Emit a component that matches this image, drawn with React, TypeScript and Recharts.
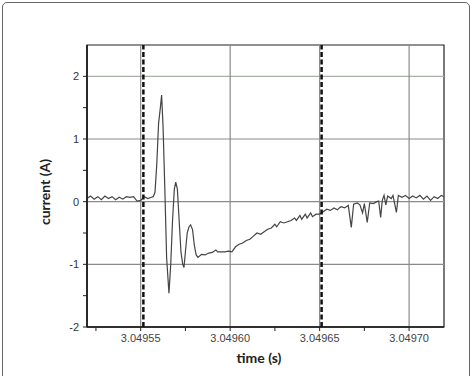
import { LineChart, Line, XAxis, YAxis, ReferenceLine, ReferenceArea, Label } from 'recharts';

// time in microseconds after 3.0495 s, current in A
const timeUs = [
  20, 22, 24, 26, 28, 30, 32, 34, 36, 38, 40, 42, 44, 46, 48, 50, 52, 54, 56, 57,
  58, 59, 60, 61, 61.7, 62.5, 63.5, 64.5, 65.8, 66.8, 67.8, 68.8, 69.6, 70.5, 71.5,
  72.5, 73.5, 74.2, 75, 76, 77, 77.9, 79, 80, 81, 82, 84, 86, 88, 90, 92, 93, 95, 97,
  99, 101, 103, 105, 107, 109, 111, 113, 115, 117, 119, 121, 123, 125, 126, 128, 130,
  132, 134, 136, 137, 139, 140, 142, 143, 145, 146, 148, 150, 152, 154, 156, 158, 160,
  161, 162, 164, 166, 167.7, 169, 171, 172.5, 174, 175, 176.6, 178, 180, 182, 183,
  184.1, 185, 186, 187, 188, 190, 191, 192.9, 194, 196, 198, 200, 202, 204, 206, 208,
  210, 212, 214, 216, 218, 219.5,
];

const currentA = [
  0.05, 0.09, 0.04, 0.08, 0.03, 0.09, 0.05, 0.08, 0.03, 0.07, 0.04, 0.08, 0.07, 0.08, 0.01, 0.02, 0.08, 0.05, 0.07, 0.08,
  0.15, 0.6, 1.25, 1.5, 1.7, 1.2, 0.2, -0.9, -1.46, -1.0, -0.3, 0.2, 0.31, 0.2, -0.3,
  -0.8, -1.0, -1.05, -0.8, -0.5, -0.4, -0.37, -0.45, -0.7, -0.85, -0.89, -0.84, -0.85, -0.82, -0.81, -0.77, -0.8, -0.8, -0.8,
  -0.79, -0.8, -0.72, -0.68, -0.66, -0.62, -0.6, -0.55, -0.5, -0.52, -0.48, -0.44, -0.42, -0.36, -0.4, -0.32, -0.34,
  -0.32, -0.3, -0.26, -0.3, -0.22, -0.28, -0.2, -0.26, -0.18, -0.24, -0.2, -0.2, -0.16, -0.12, -0.14, -0.1, -0.13,
  -0.1, -0.08, -0.1, -0.06, -0.41, -0.04, -0.02, -0.05, -0.18, -0.03, -0.33, -0.02, -0.03, 0.0, 0.01,
  -0.25, 0.02, 0.1, -0.05, 0.09, 0.05, 0.1, -0.17, 0.1, 0.07, 0.1, 0.05, 0.09, 0.06, 0.1, 0.04,
  0.09, 0.02, 0.08, 0.05, 0.1, 0.08,
];

const xTicks = [25, 50, 75, 100, 125, 150, 175, 200];
const xLabelled = [50, 100, 150, 200];
const yTicks = [-2, -1.5, -1, -0.5, 0, 0.5, 1, 1.5, 2];
const yGrid = [2, 1, 0, -1];
const markers = [51.5, 151.1];

const data = timeUs.map((t, i) => ({ t, current: currentA[i] }));

const fmtX = (v: number) => (xLabelled.includes(v) ? (3.0495 + v * 1e-6).toFixed(5) : '');
const fmtY = (v: number) => (Number.isInteger(v) ? String(v) : '');

const font = 'Lato, "Liberation Sans", sans-serif';

export default function App() {
  return (
    <div style={{ position: 'fixed', left: 0, top: 0, width: 474, height: 376, overflow: 'hidden', background: '#fff' }}>
      <div
        style={{
          position: 'absolute', left: 2, top: 2, width: 466, height: 400,
          border: '1.5px solid #666', borderRadius: 5,
        }}
      />
      <div style={{ position: 'absolute', left: 0, top: 0 }}>
        <LineChart width={474} height={376} data={data} margin={{ top: 45, right: 30, left: 0, bottom: 0 }}>
          <XAxis
            dataKey="t"
            type="number"
            domain={[20, 219.5]}
            ticks={xTicks}
            tickFormatter={fmtX}
            height={49}
            tickSize={4}
            tickMargin={3}
            tick={{ fill: '#444', fontSize: 11, fontFamily: '"Liberation Sans", Arial, sans-serif' }}
            tickLine={{ stroke: '#222' }}
            axisLine={{ stroke: '#111', strokeWidth: 1.5 }}
            allowDataOverflow
          >
            <Label
              content={() => (
                <text x={259} y={363} textAnchor="middle" fontFamily={font} fontWeight={700} fontSize={14} fill="#222">
                  time (s)
                </text>
              )}
            />
          </XAxis>
          <YAxis
            type="number"
            domain={[-2, 2.5]}
            ticks={yTicks}
            tickFormatter={fmtY}
            width={87}
            tickSize={4}
            tickMargin={4}
            tick={{ fill: '#333', fontSize: 11, fontFamily: '"Liberation Sans", Arial, sans-serif' }}
            tickLine={{ stroke: '#222' }}
            axisLine={{ stroke: '#111', strokeWidth: 1.5 }}
            allowDataOverflow
          >
            <Label
              content={() => (
                <text
                  x={50}
                  y={192}
                  transform="rotate(-90 50 192)"
                  textAnchor="middle"
                  fontFamily={font}
                  fontWeight={700}
                  fontSize={14}
                  fill="#222"
                >
                  current (A)
                </text>
              )}
            />
          </YAxis>
          <ReferenceArea x1={20} x2={219.5} y1={-2} y2={2.5} fill="none" stroke="#222" strokeWidth={1.2} />
          {yGrid.map((y) => (
            <ReferenceLine key={'h' + y} y={y} stroke={y === 2 ? '#a8b0a8' : '#8a8a8a'} strokeWidth={1.2} />
          ))}
          {xLabelled.map((x) => (
            <ReferenceLine key={'v' + x} x={x} stroke="#8a8a8a" strokeWidth={1.2} />
          ))}
          <Line
            type="linear"
            dataKey="current"
            stroke="#444"
            strokeWidth={1.2}
            dot={false}
            isAnimationActive={false}
          />
          {markers.map((x) => (
            <ReferenceLine key={'m' + x} x={x} stroke="#111" strokeWidth={2.5} strokeDasharray="5 2.5" />
          ))}
        </LineChart>
      </div>
    </div>
  );
}
